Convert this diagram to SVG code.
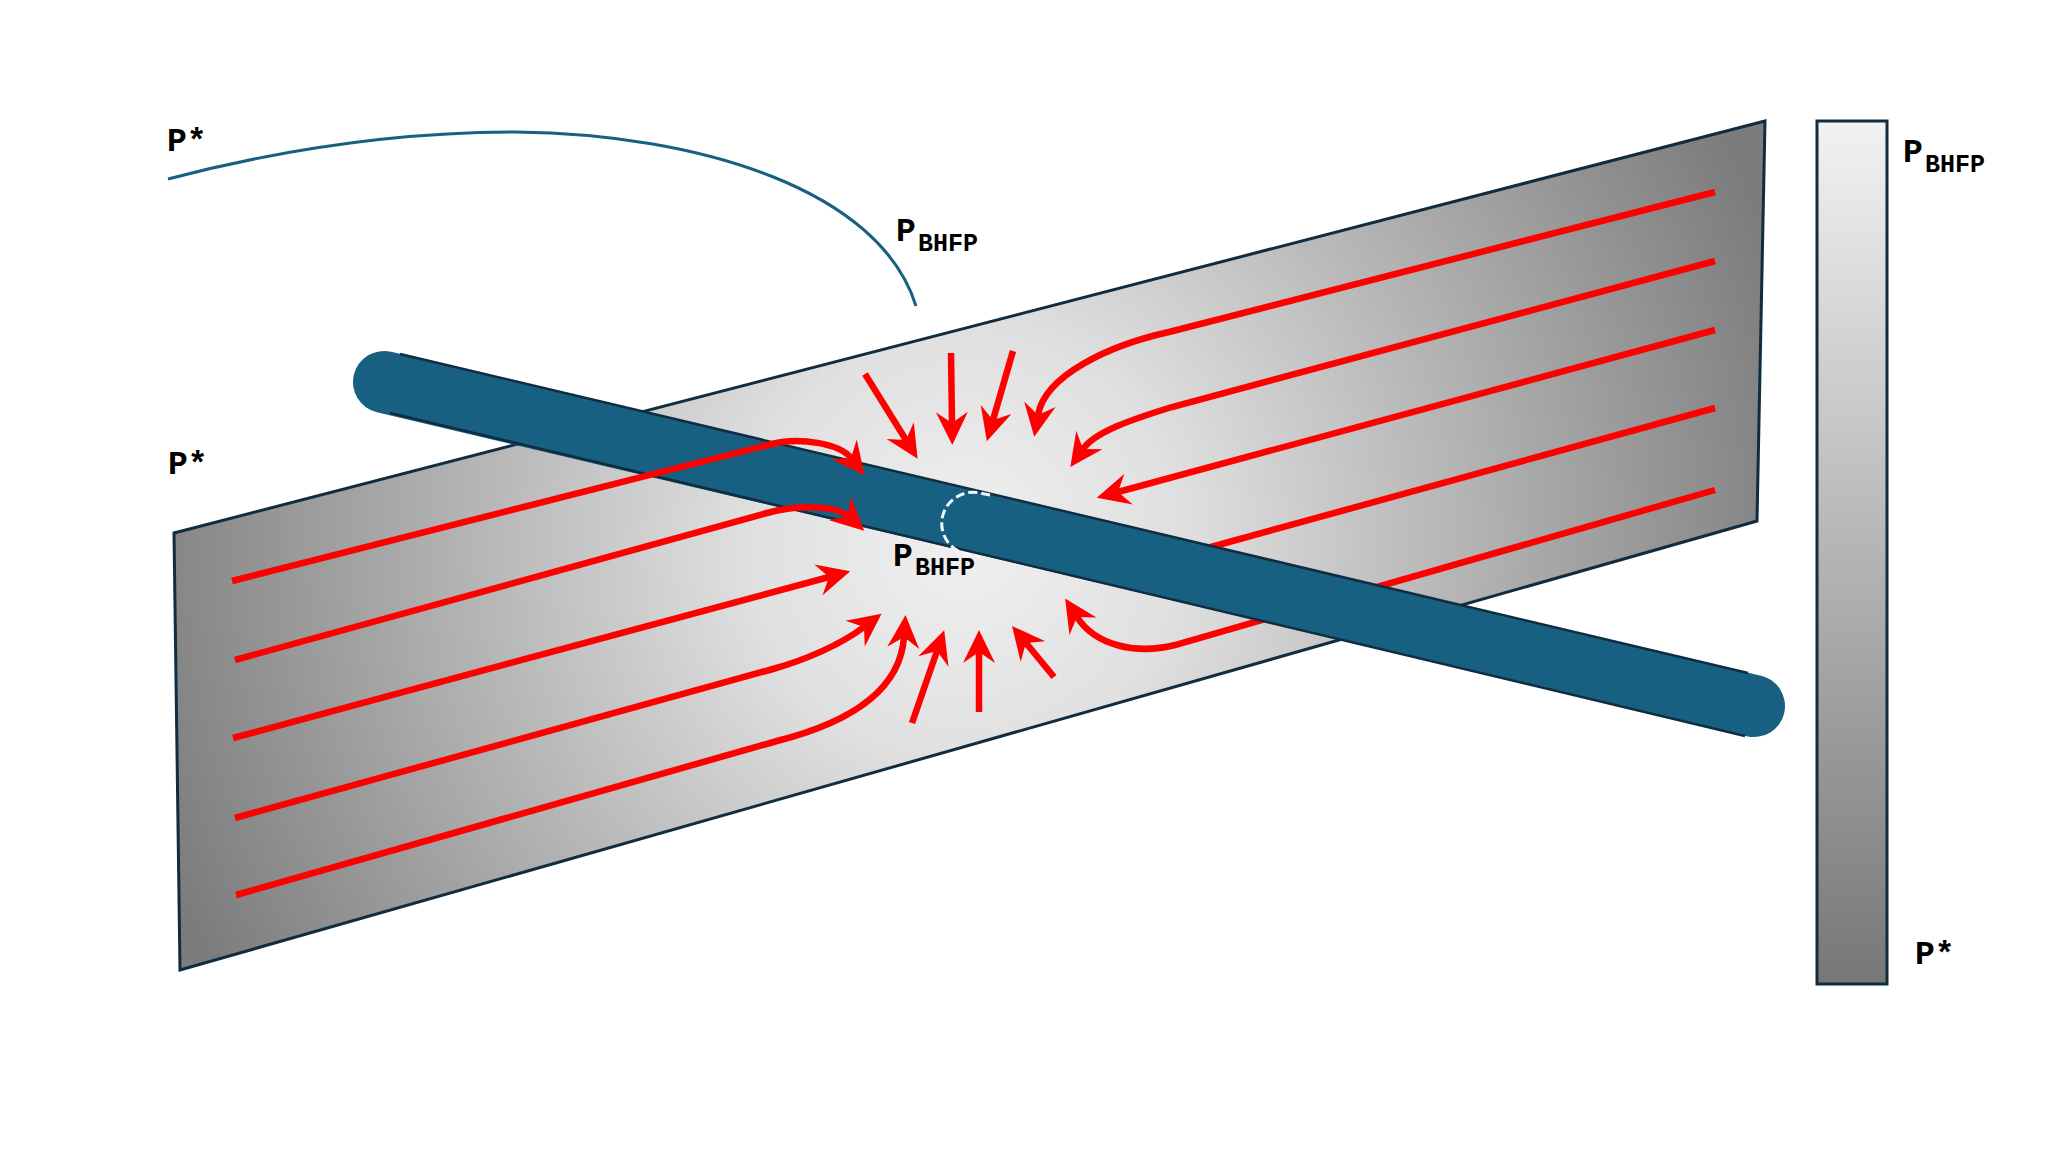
<svg xmlns="http://www.w3.org/2000/svg" width="2048" height="1152" viewBox="0 0 2048 1152">
<style>
.edge{stroke:#0f2c40;stroke-width:3;stroke-linejoin:miter}
.red{fill:none;stroke:#ff0000;stroke-width:6.5}
.arr{marker-end:url(#head)}
.lbl{font-family:"Liberation Mono","Courier New",monospace;font-weight:700;fill:#000;font-size:33px}
.sub{font-size:25px}
</style>
<defs>
<radialGradient id="planeFill" gradientUnits="userSpaceOnUse" cx="965" cy="545" r="860">
<stop offset="0" stop-color="#f0f0f0"/><stop offset="0.25" stop-color="#e0e0e0"/><stop offset="1" stop-color="#7c7c7c"/>
</radialGradient>
<linearGradient id="barFill" x1="0" y1="0" x2="0" y2="1">
<stop offset="0" stop-color="#f2f2f2"/><stop offset="1" stop-color="#777"/>
</linearGradient>
<marker id="head" markerUnits="userSpaceOnUse" markerWidth="40" markerHeight="40" viewBox="-15 -20 40 40" refX="0" refY="0" orient="auto">
<path d="M22 0L-11 -16L0 0L-11 16Z" fill="#ff0000"/>
</marker>
</defs>
<rect width="2048" height="1152" fill="#fff"/>
<g id="pressure-curve"><path d="M168 179C290 147 410 132 516 132C700 134 880 190 916 306" fill="none" stroke="#186082" stroke-width="3"/></g>
<g id="plane"><path class="edge" d="M174 533L1765 121L1757 521L180 970Z" fill="url(#planeFill)"/></g>
<g id="streamlines-under">
<path class="red" d="M1715 408L1200 550"/>
<path class="red arr" d="M1715 490L1175 645C1135 655 1095 645 1077 617"/>
</g>
<g id="well">
<path d="M384 382L1754 706" fill="none" stroke="#186082" stroke-width="62" stroke-linecap="round"/>
<path d="M400 354L1748 673M390 413L1745 736" fill="none" stroke="#0f2c40" stroke-width="2.5"/>
<path d="M990 495L980 493A31 31 0 0 0 966 554L980 557" fill="none" stroke="#f4f8fa" stroke-width="3" stroke-dasharray="9 4"/>
</g>
<g id="streamlines">
<path class="red arr" d="M1715 192L1169 332C1110 345 1045 375 1038 415"/>
<path class="red arr" d="M1715 261L1172 407C1130 420 1095 432 1083 449"/>
<path class="red arr" d="M1715 330L1118 492"/>
<path class="red arr" d="M232 581L768 445C800 436 840 444 851 458"/>
<path class="red arr" d="M235 660L767 513C795 505 836 505 848 516"/>
<path class="red arr" d="M233 738L829 577"/>
<path class="red arr" d="M235 818L773 669C805 660 840 645 864 627"/>
<path class="red arr" d="M236 895L777 741C840 725 900 695 904 637"/>
<path class="red arr" d="M865 374L906 440"/>
<path class="red arr" d="M951 353L952 423"/>
<path class="red arr" d="M1013 351L993 420"/>
<path class="red arr" d="M912 723L937 651"/>
<path class="red arr" d="M979 712L979 652"/>
<path class="red arr" d="M1054 677L1026 643"/>
</g>
<g id="scale-bar"><rect class="edge" x="1817" y="121" width="70" height="863" fill="url(#barFill)"/></g>
<g id="labels">
<text class="lbl" x="167" y="151">P*</text>
<text class="lbl" x="168" y="474">P*</text>
<text class="lbl" x="1915" y="964">P*</text>
<text class="lbl" x="896" y="241">P<tspan class="sub" x="918" y="251">BHFP</tspan></text>
<text class="lbl" x="893" y="566">P<tspan class="sub" x="915" y="575">BHFP</tspan></text>
<text class="lbl" x="1903" y="162">P<tspan class="sub" x="1925" y="172">BHFP</tspan></text>
</g>
</svg>
